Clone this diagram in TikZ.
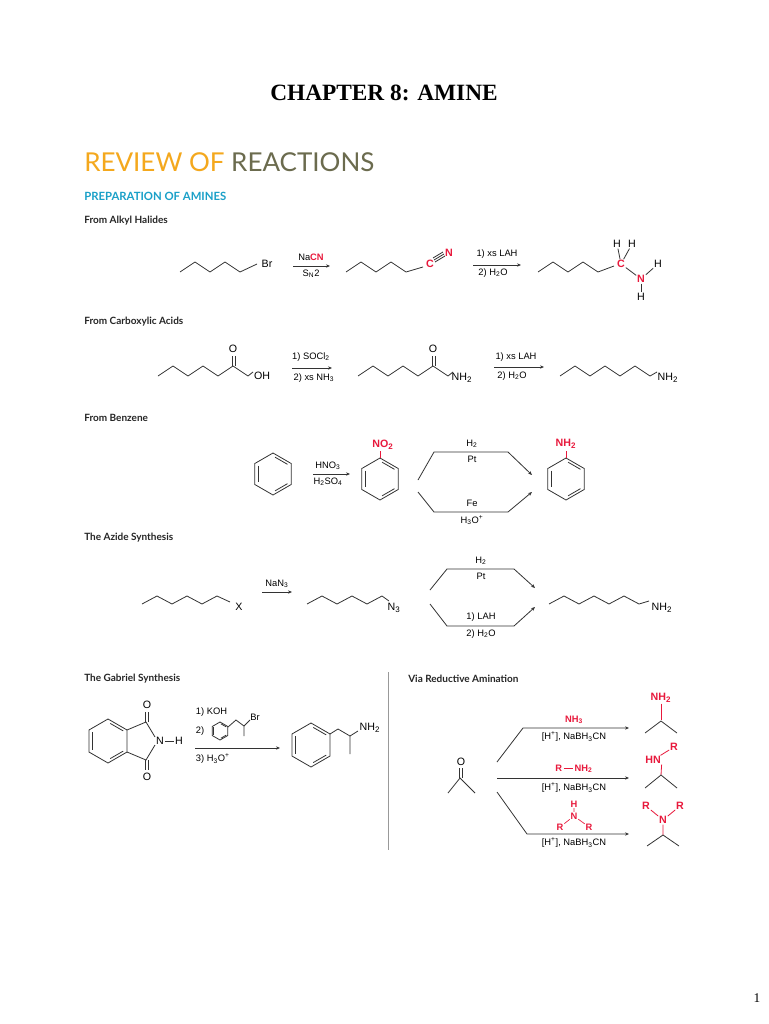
\documentclass[tikz,border=0pt]{standalone}
\usepackage{fontspec}
\setmainfont{Liberation Sans}
\newfontfamily\titlefont{Liberation Serif}
\newfontfamily\headfont{Lato}
\usetikzlibrary{arrows.meta}
\definecolor{chemred}{HTML}{E8193C}
\definecolor{revorange}{HTML}{F4A81D}
\definecolor{revolive}{HTML}{6B6B4E}
\definecolor{teal1}{HTML}{1AA0C8}
\tikzset{
 bond/.style={line width=0.6pt,black!80},
 rxn/.style={line width=0.6pt,black!80,-{Stealth[length=3pt,width=2.5pt]}},
 lab/.style={font=\fontsize{7}{8}\selectfont,inner sep=0.5pt},
 rlab/.style={lab,text=chemred,font=\fontsize{7}{8}\selectfont\bfseries},
 atom/.style={font=\fontsize{8}{9}\selectfont,inner sep=0.5pt},
 ratom/.style={atom,text=chemred,font=\fontsize{8}{9}\selectfont\bfseries},
 sect/.style={font=\headfont\bfseries\fontsize{7.5}{9}\selectfont,text=black!85,anchor=west,inner sep=0pt}
}
\newcommand\benz[3]{%
 \draw[bond] (#1+0,#2-#3) -- (#1+0.866*#3,#2-0.5*#3) -- (#1+0.866*#3,#2+0.5*#3) -- (#1,#2+#3) -- (#1-0.866*#3,#2+0.5*#3) -- (#1-0.866*#3,#2-0.5*#3) -- cycle;
 \draw[bond] (#1+0.1*#3,#2-0.8*#3) -- (#1+0.69*#3,#2-0.46*#3);
 \draw[bond] (#1+0.69*#3,#2+0.46*#3) -- (#1+0.1*#3,#2+0.8*#3);
 \draw[bond] (#1-0.69*#3,#2-0.4*#3) -- (#1-0.69*#3,#2+0.4*#3);}
\begin{document}
\begin{tikzpicture}[x=0.75pt,y=-0.75pt]
\useasboundingbox[fill=white] (0,0) rectangle (768,1024);
\node[font=\titlefont\bfseries\fontsize{17.5}{20}\selectfont] (title) at (384,93) {CHAPTER 8: AMINE};
\node[anchor=west,inner sep=0pt,font=\headfont\fontsize{19.5}{22}\selectfont] (rev) at (84,162) {\textcolor{revorange}{REVIEW OF} \textcolor{revolive}{REACTIONS}};
\node[anchor=west,inner sep=0pt,font=\headfont\bfseries\fontsize{8.5}{10}\selectfont,text=teal1] (prep) at (84,196) {PREPARATION OF AMINES};
\node[sect] (s1) at (84,221) {From Alkyl Halides};
\node[sect] (s2) at (84,322) {From Carboxylic Acids};
\node[sect] (s3) at (84,418) {From Benzene};
\node[sect] (s4) at (84,538) {The Azide Synthesis};
\node[sect] (s5) at (84,679) {The Gabriel Synthesis};
\node[sect] (s6) at (408,679) {Via Reductive Amination};
\node[font=\titlefont\fontsize{10}{12}\selectfont] (pg) at (757,998) {1};

% Row 1
\draw[bond] (180,272)--(195,262)--(210,272)--(225,262)--(240,272)--(257,264);
\node[atom] (br1) at (267,264) {Br};
\coordinate (a1s) at (293,266); \coordinate (a1e) at (330,266);
\draw[rxn] (a1s)--(a1e);
\node[lab] at (311,257) {Na\textcolor{chemred}{\textbf{CN}}};
\node[lab] at (311,274) {S\textsubscript{N}2};
\draw[bond] (346,272)--(361,262)--(376,272)--(391,262)--(406,272)--(423,267);
\node[ratom] (c1) at (430,264) {C};
\node[ratom] (n1) at (449,253) {N};
\draw[bond] (434,260)--(444,254); \draw[bond] (433,258)--(443,252); \draw[bond] (435,262)--(445,256);
\draw[rxn] (473,265)--(521,265);
\node[lab] at (497,254) {1) xs LAH};
\node[lab] at (493,273) {2) H\textsubscript{2}O};
\draw[bond] (538,272)--(553,262)--(568,272)--(583,262)--(598,272)--(614,266);
\node[ratom] (c2) at (621,264) {C};
\node[ratom] (n2) at (641,279) {N};
\node[atom] (h1) at (617,244) {H}; \node[atom] (h2) at (632,244) {H};
\node[atom] (h3) at (658,264) {H}; \node[atom] (h4) at (641,297) {H};
\draw[bond] (h1)--(c2); \draw[bond] (h2)--(c2); \draw[bond] (c2)--(n2); \draw[bond] (n2)--(h3); \draw[bond] (n2)--(h4);

% Row 2
\draw[bond] (158,376)--(173,366)--(188,376)--(203,366)--(218,376)--(233,366)--(248,376)--(253,372);
\draw[bond] (232,366)--(232,356); \draw[bond] (235,366)--(235,356);
\node[atom] (o1) at (233,349) {O}; \node[atom] (oh) at (262,376) {OH};
\draw[rxn] (292,368)--(332,368);
\node[lab] at (311,357) {1) SOCl\textsubscript{2}};
\node[lab] at (314,378) {2) xs NH\textsubscript{3}};
\draw[bond] (358,376)--(373,366)--(388,376)--(403,366)--(418,376)--(433,366)--(448,376)--(453,372);
\draw[bond] (432,366)--(432,356); \draw[bond] (435,366)--(435,356);
\node[atom] (o2) at (433,349) {O}; \node[atom] (nh1) at (462,378) {NH\textsubscript{2}};
\draw[rxn] (494,367)--(544,367);
\node[lab] at (516,357) {1) xs LAH};
\node[lab] at (512,376) {2) H\textsubscript{2}O};
\draw[bond] (560,376)--(575,366)--(590,376)--(605,366)--(620,376)--(635,366)--(650,376)--(657,372);
\node[atom] (nh2) at (668,378) {NH\textsubscript{2}};

% Benzene row
\benz{273}{474}{21}
\draw[rxn] (313,474)--(350,474);
\node[lab] at (328,466) {HNO\textsubscript{3}};
\node[lab] at (328,482) {H\textsubscript{2}SO\textsubscript{4}};
\benz{380}{479}{21}
\node[ratom] (no2) at (383,445) {NO\textsubscript{2}};
\draw[chemred,line width=0.6pt] (380,458)--(380,451);
\draw[rxn] (418,480)--(434,452)--(508,452)--(532,475);
\draw[rxn] (418,492)--(434,512)--(508,512)--(532,492);
\node[lab] at (472,444) {H\textsubscript{2}};
\node[lab] at (472,459) {Pt};
\node[lab] at (472,503) {Fe};
\node[lab] at (472,520) {H\textsubscript{3}O\textsuperscript{+}};
\benz{566}{479}{21}
\node[ratom] (nh3) at (566,444) {NH\textsubscript{2}};
\draw[chemred,line width=0.6pt] (566,458)--(566,451);

% Azide
\draw[bond] (142,604)--(157,596)--(172,604)--(187,596)--(202,604)--(217,596)--(230,602);
\node[atom] (x1) at (239,607) {X};
\draw[rxn] (262,592)--(292,592);
\node[lab] at (277,584) {NaN\textsubscript{3}};
\draw[bond] (307,604)--(322,596)--(337,604)--(352,596)--(367,604)--(382,596)--(389,601);
\node[atom] (n3) at (394,608) {N\textsubscript{3}};
\draw[rxn] (430,590)--(447,569)--(514,569)--(535,588);
\draw[rxn] (430,604)--(447,626)--(514,626)--(535,607);
\node[lab] at (481,561) {H\textsubscript{2}};
\node[lab] at (481,576) {Pt};
\node[lab] at (481,617) {1) LAH};
\node[lab] at (481,634) {2) H\textsubscript{2}O};
\draw[bond] (549,604)--(564,596)--(579,604)--(594,596)--(609,604)--(624,596)--(639,604)--(649,601);
\node[atom] (nh4) at (662,608) {NH\textsubscript{2}};

% Gabriel
\benz{108}{741}{22}
\draw[bond] (127,730)--(146,722)--(155,737);
\draw[bond] (127,752)--(146,760)--(155,745);
\draw[bond] (145,722)--(145,712); \draw[bond] (148,722)--(148,712);
\draw[bond] (145,760)--(145,770); \draw[bond] (148,760)--(148,770);
\node[atom] (go1) at (147,705) {O};
\node[atom] (go2) at (147,777) {O};
\node[atom] (gn) at (160,741) {N};
\node[atom] (gh) at (179,741) {H};
\draw[bond] (gn)--(gh);
\draw[rxn] (195,748)--(280,748);
\node[lab,anchor=west] at (195,712) {1) KOH};
\node[lab,anchor=west] at (195,731) {2)};
\benz{220}{731}{9}
\draw[bond] (228,727)--(236,720)--(244,726)--(244,736); \draw[bond] (244,726)--(250,720);
\node[lab] at (255,717) {Br};
\node[lab,anchor=west] at (195,759) {3) H\textsubscript{3}O\textsuperscript{+}};
\benz{311}{745}{22}
\draw[bond] (330,734)--(338,729)--(350,736)--(350,754); \draw[bond] (350,736)--(358,731);
\node[atom] (gnh) at (370,728) {NH\textsubscript{2}};

% divider
\draw[black!40,line width=0.6pt] (388,672)--(388,850);

% Reductive amination
\draw[bond] (462,768)--(462,778); \draw[bond] (459,768)--(459,778);
\node[atom] (ao) at (461,762) {O};
\draw[bond] (448,793)--(460,778)--(475,793);
\draw[rxn] (497,762)--(523,728)--(629,728);
\draw[rxn] (497,778)--(629,778);
\draw[rxn] (497,792)--(527,834)--(629,834);
\node[rlab] at (574,720) {NH\textsubscript{3}};
\node[lab] at (574,737) {[H\textsuperscript{+}], NaBH\textsubscript{3}CN};
\node[rlab] at (574,769) {R\,\rule[2.3pt]{7pt}{0.5pt}\,NH\textsubscript{2}};
\node[lab] at (574,788) {[H\textsuperscript{+}], NaBH\textsubscript{3}CN};
\node[rlab] (rh) at (574,804) {H};
\node[rlab] (rn) at (574,816) {N};
\node[rlab] (rr1) at (560,827) {R};
\node[rlab] (rr2) at (589,827) {R};
\draw[chemred,line width=0.5pt] (rh)--(rn) (rn)--(rr1) (rn)--(rr2);
\node[lab] at (574,843) {[H\textsuperscript{+}], NaBH\textsubscript{3}CN};
% products
\node[ratom] (p1) at (661,698) {NH\textsubscript{2}};
\draw[chemred,line width=0.6pt] (p1)--(661,720);
\draw[bond] (645,733)--(661,721)--(677,733);
\node[ratom] (p2n) at (653,760) {HN};
\node[ratom] (p2r) at (674,747) {R};
\draw[chemred,line width=0.6pt] (p2n)--(p2r) (p2n.south east)--(661,775);
\draw[bond] (645,788)--(661,775)--(677,788);
\node[ratom] (p3r1) at (646,806) {R};
\node[ratom] (p3r2) at (680,806) {R};
\node[ratom] (p3n) at (663,820) {N};
\draw[chemred,line width=0.6pt] (p3n)--(p3r1) (p3n)--(p3r2) (p3n)--(663,835);
\draw[bond] (647,846)--(663,835)--(679,846);
\end{tikzpicture}
\end{document}
